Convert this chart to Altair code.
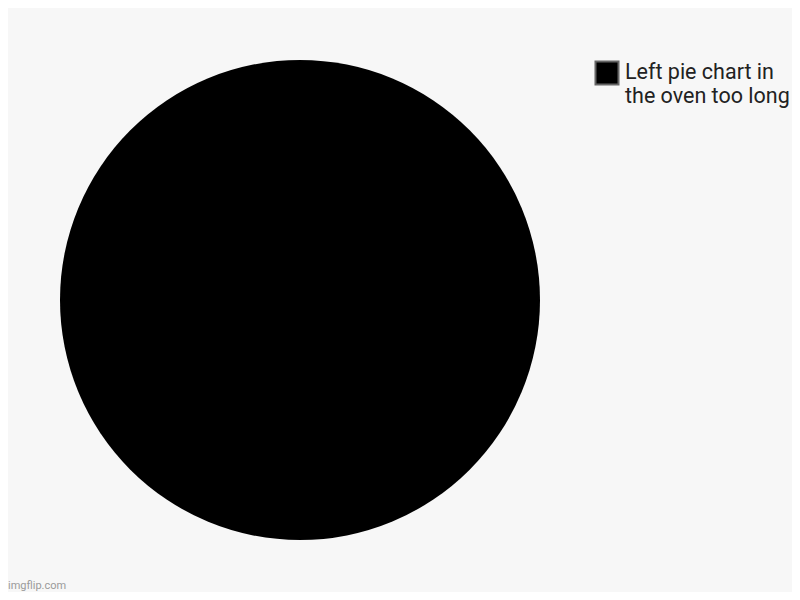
import altair as alt
import pandas as pd

categories = ["Left pie chart in\nthe oven too long"]
values = [100]
watermark = ["imgflip.com"]

df = pd.DataFrame({"category": categories, "value": values})
wm = pd.DataFrame({"t": watermark})

pie = alt.Chart(df).mark_arc(radius=240, x=292, y=292, stroke=None).encode(
    theta=alt.Theta("value:Q", stack=True),
    color=alt.Color(
        "category:N",
        scale=alt.Scale(range=["#000000"]),
        legend=alt.Legend(
            title=None,
            orient="none",
            legendX=586,
            legendY=52,
            padding=0,
            symbolType="square",
            symbolSize=530,
            symbolStrokeColor="#666666",
            symbolStrokeWidth=2,
            symbolFillColor="#000000",
            labelFont="Roboto",
            labelFontSize=21.5,
            labelColor="#222222",
            labelOffset=5,
            labelLimit=300,
            labelExpr="split(datum.label, '\\n')",
        ),
    ),
)

text = alt.Chart(wm).mark_text(
    align="left", baseline="alphabetic", font="Roboto", fontSize=11, color="#9a9a9a"
).encode(text="t:N", x=alt.value(0), y=alt.value(581))

chart = alt.layer(pie, text).properties(
    width=784,
    height=584,
    background="#f7f7f7",
    padding=0,
    autosize=alt.AutoSizeParams(type="none"),
).configure_view(stroke=None)

chart.save("out.html", embed_options={"renderer": "svg", "actions": False})
